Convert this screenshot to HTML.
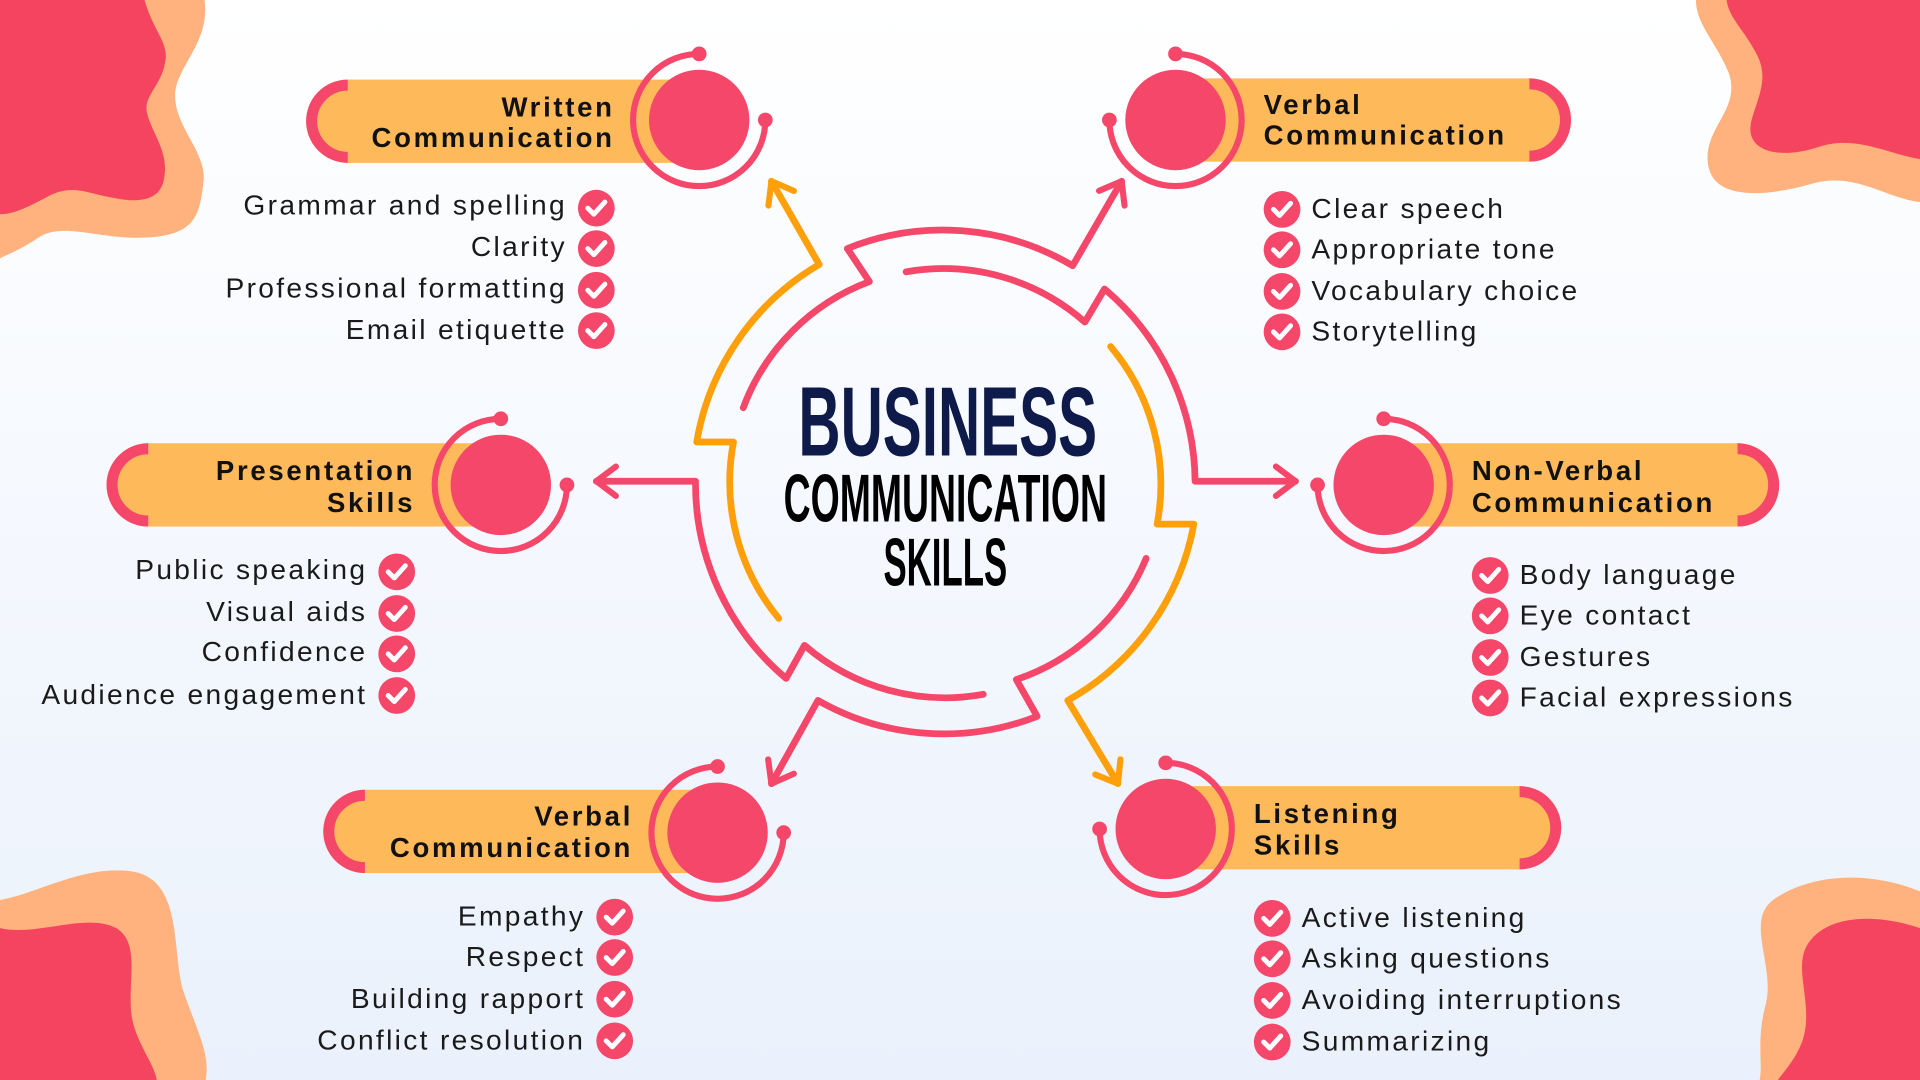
<!DOCTYPE html>
<html><head><meta charset="utf-8"><style>
html,body{margin:0;padding:0;width:1920px;height:1080px;overflow:hidden}
svg{display:block}
.lbl{font-family:"Liberation Sans",sans-serif;font-weight:bold;font-size:22.5px;fill:#111;letter-spacing:2.2px}
.li{font-family:"Liberation Sans",sans-serif;font-size:23px;fill:#1a1a1a;letter-spacing:1.9px}
.t{font-family:"Liberation Sans Narrow","Liberation Sans",sans-serif;font-weight:bold}
</style></head><body>
<svg width="1920" height="1080" viewBox="0 0 1568 882" xmlns="http://www.w3.org/2000/svg">
<defs>
<linearGradient id="bg" x1="0" y1="0" x2="0" y2="1"><stop offset="0" stop-color="#ffffff"/><stop offset="1" stop-color="#eaf1fc"/></linearGradient>
<marker id="mp" markerUnits="userSpaceOnUse" markerWidth="40" markerHeight="40" refX="0" refY="0" viewBox="-20 -20 40 40" orient="auto" overflow="visible"><path d="M-16,-12 L0,0 L-16,12" fill="none" stroke="#f4476a" stroke-width="5" stroke-linecap="round" stroke-linejoin="round"/></marker>
<marker id="mo" markerUnits="userSpaceOnUse" markerWidth="40" markerHeight="40" refX="0" refY="0" viewBox="-20 -20 40 40" orient="auto" overflow="visible"><path d="M-16,-12 L0,0 L-16,12" fill="none" stroke="#ff9f0a" stroke-width="5" stroke-linecap="round" stroke-linejoin="round"/></marker>
<g id="ck"><circle r="15" fill="#f4476a"/><path d="M-7,0 L-2,5 L7,-5" fill="none" stroke="#fff" stroke-width="4" stroke-linecap="round" stroke-linejoin="round"/></g>
</defs>
<rect width="1568" height="882" fill="url(#bg)"/>
<!-- corner blobs -->
<path d="M0,0 L167,0 C172,35 143,55 143,78 C143,105 170,125 166,150 C163,175 160,192 120,194 C80,196 50,180 30,195 C15,205 5,208 0,211 Z" fill="#ffb27d"/>
<path d="M0,0 L118,0 C125,25 138,35 135,50 C132,70 117,78 120,92 C124,110 140,125 133,150 C128,165 110,165 95,162 C70,158 60,150 40,160 C25,168 12,175 0,175 Z" fill="#f4445f"/>
<path d="M1385,0 L1568,0 L1568,165 C1540,162 1515,140 1480,150 C1445,160 1400,165 1395,135 C1390,105 1422,90 1412,60 C1402,35 1385,20 1385,0 Z" fill="#ffb27d"/>
<path d="M1410,0 L1568,0 L1568,130 C1540,125 1515,110 1485,120 C1455,130 1425,125 1430,100 C1435,80 1445,65 1435,45 C1425,25 1412,15 1410,0 Z" fill="#f4445f"/>
<path d="M0,735 C30,730 70,705 110,712 C150,720 140,780 150,810 C160,840 172,860 168,882 L0,882 Z" fill="#ffb27d"/>
<path d="M0,758 C30,765 70,745 95,758 C118,772 100,812 110,840 C116,858 126,870 128,882 L0,882 Z" fill="#f4445f"/>
<path d="M1568,728 C1530,712 1480,712 1448,735 C1425,752 1450,790 1442,820 C1434,850 1440,870 1437,882 L1568,882 Z" fill="#ffb27d"/>
<path d="M1568,758 C1530,745 1492,748 1477,770 C1463,790 1482,820 1472,850 C1466,866 1456,876 1452,882 L1568,882 Z" fill="#f4445f"/>

<!-- center structure -->
<g fill="none" stroke-width="5.5" stroke-linecap="round" stroke-linejoin="round">
<path d="M607,333 A175,175 0 0 1 710,230 L692,203 A208,208 0 0 1 876,217 L916,148" stroke="#f4476a" marker-end="url(#mp)"/>
<path d="M740,222 A175,175 0 0 1 886,263 L902,236 A208,208 0 0 1 976,393 L1058,393" stroke="#f4476a" marker-end="url(#mp)"/>
<path d="M907,283 A175,175 0 0 1 945,428 L975,428 A208,208 0 0 1 872,572 L913,640" stroke="#ff9f0a" marker-end="url(#mo)"/>
<path d="M936,456 A175,175 0 0 1 830,555 L847,585 A208,208 0 0 1 668,572 L630,640" stroke="#f4476a" marker-end="url(#mp)"/>
<path d="M803,567 A175,175 0 0 1 657,527 L642,554 A208,208 0 0 1 568,393 L487,393" stroke="#f4476a" marker-end="url(#mp)"/>
<path d="M636,505 A175,175 0 0 1 599,361 L569,361 A208,208 0 0 1 669,216 L630,148" stroke="#ff9f0a" marker-end="url(#mo)"/>
</g>
<text class="t" x="774" y="372" font-size="80" fill="#0d1a4a" text-anchor="middle" textLength="244" lengthAdjust="spacingAndGlyphs">BUSINESS</text>
<text class="t" x="772" y="426" font-size="55" fill="#000" text-anchor="middle" textLength="264" lengthAdjust="spacingAndGlyphs">COMMUNICATION</text>
<text class="t" x="772" y="478" font-size="55" fill="#000" text-anchor="middle" textLength="101" lengthAdjust="spacingAndGlyphs">SKILLS</text>

<!-- Written Communication -->
<g>
<rect x="283" y="65" width="290" height="68" fill="#fdb95a"/><circle cx="284" cy="99" r="34" fill="#fdb95a"/>
<path d="M284,69.5 A29.5,29.5 0 0 0 284,128.5" fill="none" stroke="#f4476a" stroke-width="9"/>
<circle cx="571" cy="98" r="41" fill="#f4476a"/>
<path d="M571,44 A54,54 0 1 0 625,98" fill="none" stroke="#f4476a" stroke-width="5"/>
<circle cx="571" cy="44" r="6" fill="#f4476a"/><circle cx="625" cy="98" r="6" fill="#f4476a"/>
<text class="lbl" x="502" y="95" text-anchor="end">Written</text>
<text class="lbl" x="502" y="120" text-anchor="end">Communication</text>
<g class="li" text-anchor="end">
<text x="463" y="175">Grammar and spelling</text><text x="463" y="209">Clarity</text><text x="463" y="243">Professional formatting</text><text x="463" y="277">Email etiquette</text></g>
<use href="#ck" x="487" y="170"/><use href="#ck" x="487" y="203"/><use href="#ck" x="487" y="237"/><use href="#ck" x="487" y="270"/>
</g>

<!-- Presentation Skills -->
<g>
<rect x="120" y="362" width="290" height="68" fill="#fdb95a"/><circle cx="121" cy="396" r="34" fill="#fdb95a"/>
<path d="M121,366.5 A29.5,29.5 0 0 0 121,425.5" fill="none" stroke="#f4476a" stroke-width="9"/>
<circle cx="409" cy="396" r="41" fill="#f4476a"/>
<path d="M409,342 A54,54 0 1 0 463,396" fill="none" stroke="#f4476a" stroke-width="5"/>
<circle cx="409" cy="342" r="6" fill="#f4476a"/><circle cx="463" cy="396" r="6" fill="#f4476a"/>
<text class="lbl" x="339" y="392" text-anchor="end">Presentation</text>
<text class="lbl" x="339" y="418" text-anchor="end">Skills</text>
<g class="li" text-anchor="end">
<text x="300" y="473">Public speaking</text><text x="300" y="507">Visual aids</text><text x="300" y="540">Confidence</text><text x="300" y="575">Audience engagement</text></g>
<use href="#ck" x="324" y="467"/><use href="#ck" x="324" y="501"/><use href="#ck" x="324" y="534"/><use href="#ck" x="324" y="568"/>
</g>

<!-- Verbal bottom-left -->
<g>
<rect x="297" y="645" width="290" height="68" fill="#fdb95a"/><circle cx="298" cy="679" r="34" fill="#fdb95a"/>
<path d="M298,649.5 A29.5,29.5 0 0 0 298,708.5" fill="none" stroke="#f4476a" stroke-width="9"/>
<circle cx="586" cy="680" r="41" fill="#f4476a"/>
<path d="M586,626 A54,54 0 1 0 640,680" fill="none" stroke="#f4476a" stroke-width="5"/>
<circle cx="586" cy="626" r="6" fill="#f4476a"/><circle cx="640" cy="680" r="6" fill="#f4476a"/>
<text class="lbl" x="517" y="674" text-anchor="end">Verbal</text>
<text class="lbl" x="517" y="700" text-anchor="end">Communication</text>
<g class="li" text-anchor="end">
<text x="478" y="756">Empathy</text><text x="478" y="789">Respect</text><text x="478" y="823">Building rapport</text><text x="478" y="857">Conflict resolution</text></g>
<use href="#ck" x="502" y="749"/><use href="#ck" x="502" y="782"/><use href="#ck" x="502" y="816"/><use href="#ck" x="502" y="850"/>
</g>

<!-- Verbal top-right -->
<g>
<rect x="960" y="64" width="290" height="68" fill="#fdb95a"/><circle cx="1249" cy="98" r="34" fill="#fdb95a"/>
<path d="M1249,68.5 A29.5,29.5 0 0 1 1249,127.5" fill="none" stroke="#f4476a" stroke-width="9"/>
<circle cx="960" cy="98" r="41" fill="#f4476a"/>
<path d="M960,44 A54,54 0 1 1 906,98" fill="none" stroke="#f4476a" stroke-width="5"/>
<circle cx="960" cy="44" r="6" fill="#f4476a"/><circle cx="906" cy="98" r="6" fill="#f4476a"/>
<text class="lbl" x="1032" y="93">Verbal</text>
<text class="lbl" x="1032" y="118">Communication</text>
<g class="li">
<text x="1071" y="178">Clear speech</text><text x="1071" y="211">Appropriate tone</text><text x="1071" y="245">Vocabulary choice</text><text x="1071" y="278">Storytelling</text></g>
<use href="#ck" x="1047" y="171"/><use href="#ck" x="1047" y="204"/><use href="#ck" x="1047" y="238"/><use href="#ck" x="1047" y="271"/>
</g>

<!-- Non-Verbal -->
<g>
<rect x="1130" y="362" width="290" height="68" fill="#fdb95a"/><circle cx="1419" cy="396" r="34" fill="#fdb95a"/>
<path d="M1419,366.5 A29.5,29.5 0 0 1 1419,425.5" fill="none" stroke="#f4476a" stroke-width="9"/>
<circle cx="1130" cy="396" r="41" fill="#f4476a"/>
<path d="M1130,342 A54,54 0 1 1 1076,396" fill="none" stroke="#f4476a" stroke-width="5"/>
<circle cx="1130" cy="342" r="6" fill="#f4476a"/><circle cx="1076" cy="396" r="6" fill="#f4476a"/>
<text class="lbl" x="1202" y="392">Non-Verbal</text>
<text class="lbl" x="1202" y="418">Communication</text>
<g class="li">
<text x="1241" y="477">Body language</text><text x="1241" y="510">Eye contact</text><text x="1241" y="544">Gestures</text><text x="1241" y="577">Facial expressions</text></g>
<use href="#ck" x="1217" y="470"/><use href="#ck" x="1217" y="503"/><use href="#ck" x="1217" y="537"/><use href="#ck" x="1217" y="570"/>
</g>

<!-- Listening -->
<g>
<rect x="952" y="642" width="290" height="68" fill="#fdb95a"/><circle cx="1241" cy="676" r="34" fill="#fdb95a"/>
<path d="M1241,646.5 A29.5,29.5 0 0 1 1241,705.5" fill="none" stroke="#f4476a" stroke-width="9"/>
<circle cx="952" cy="677" r="41" fill="#f4476a"/>
<path d="M952,623 A54,54 0 1 1 898,677" fill="none" stroke="#f4476a" stroke-width="5"/>
<circle cx="952" cy="623" r="6" fill="#f4476a"/><circle cx="898" cy="677" r="6" fill="#f4476a"/>
<text class="lbl" x="1024" y="672">Listening</text>
<text class="lbl" x="1024" y="698">Skills</text>
<g class="li">
<text x="1063" y="757">Active listening</text><text x="1063" y="790">Asking questions</text><text x="1063" y="824">Avoiding interruptions</text><text x="1063" y="858">Summarizing</text></g>
<use href="#ck" x="1039" y="750"/><use href="#ck" x="1039" y="783"/><use href="#ck" x="1039" y="817"/><use href="#ck" x="1039" y="851"/>
</g>
</svg>
</body></html>
